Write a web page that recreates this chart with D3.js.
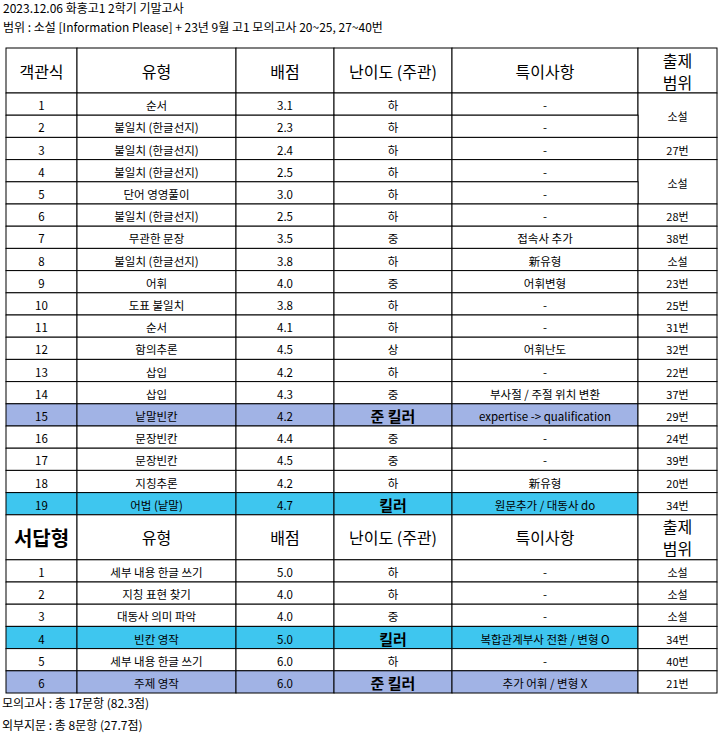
<!DOCTYPE html>
<html><head><meta charset="utf-8">
<script src="https://cdn.jsdelivr.net/npm/d3@7"></script>
<style>body{margin:0;background:#fff}</style>
</head><body>
<script>
const headerA = ["객관식", "유형", "배점", "난이도 (주관)", "특이사항", "출제\n범위"];
const headerB = ["서답형", "유형", "배점", "난이도 (주관)", "특이사항", "출제\n범위"];
const objTypes = ["순서","불일치 (한글선지)","불일치 (한글선지)","불일치 (한글선지)","단어 영영풀이","불일치 (한글선지)","무관한 문장","불일치 (한글선지)","어휘","도표 불일치","순서","함의추론","삽입","삽입","낱말빈칸","문장빈칸","문장빈칸","지칭추론","어법 (낱말)"];
const objScores = [3.1,2.3,2.4,2.5,3.0,2.5,3.5,3.8,4.0,3.8,4.1,4.5,4.2,4.3,4.2,4.4,4.5,4.2,4.7];
const objLevels = ["하","하","하","하","하","하","중","하","중","하","하","상","하","중","준 킬러","중","중","하","킬러"];
const objNotes = ["-","-","-","-","-","-","접속사 추가","新유형","어휘변형","-","-","어휘난도","-","부사절 / 주절 위치 변환","expertise -> qualification","-","-","新유형","원문추가 / 대동사 do"];
const objRange = ["소설",null,"27번","소설",null,"28번","38번","소설","23번","25번","31번","32번","22번","37번","29번","24번","39번","20번","34번"];
const objSpan = [2,0,1,2,0,1,1,1,1,1,1,1,1,1,1,1,1,1,1];
const subTypes = ["세부 내용 한글 쓰기","지칭 표현 찾기","대동사 의미 파악","빈칸 영작","세부 내용 한글 쓰기","주제 영작"];
const subScores = [5.0,4.0,4.0,5.0,6.0,6.0];
const subLevels = ["하","하","중","킬러","하","준 킬러"];
const subNotes = ["-","-","-","복합관계부사 전환 / 변형 O","-","추가 어휘 / 변형 X"];
const subRange = ["소설","소설","소설","34번","40번","21번"];

const W = 723, H = 737;
const colEdges = [6, 77, 236, 334, 452, 638, 717];
const rowH = 22.2, headH = 45;
const fillFor = l => l === "킬러" ? "#3ec6ef" : l === "준 킬러" ? "#a1b3e5" : "#fff";
const font = "'Noto Sans CJK KR', 'DejaVu Sans', sans-serif";

const svg = d3.select("body").append("svg").attr("width", W).attr("height", H)
  .style("font-family", font);

svg.append("text").attr("x", 3).attr("y", 13).attr("font-size", 12).text("2023.12.06 화홍고1 2학기 기말고사");
svg.append("text").attr("x", 3).attr("y", 32).attr("font-size", 12).text("범위 : 소설 [Information Please] + 23년 9월 고1 모의고사 20~25, 27~40번");

const x = i => colEdges[i];
const g = svg.append("g");

function header(y, labels) {
  labels.forEach((t, i) => {
    g.append("rect").attr("x", x(i)).attr("y", y).attr("width", x(i + 1) - x(i)).attr("height", headH)
      .attr("fill", "#fff").attr("stroke", "#000");
    const lines = t.split("\n");
    const size = i === 0 && t === "서답형" ? 20 : 16;
    lines.forEach((ln, k) => {
      g.append("text").attr("x", (x(i) + x(i + 1)) / 2)
        .attr("y", y + headH / 2 + (k - (lines.length - 1) / 2) * 22)
        .attr("text-anchor", "middle").attr("dominant-baseline", "central")
        .attr("font-size", size).attr("font-weight", i === 0 && t === "서답형" ? "bold" : "normal").text(ln);
    });
  });
}

function body(y0, nums, types, scores, levels, notes, range, span) {
  const y = d3.scaleLinear().domain([0, nums.length]).range([y0, y0 + nums.length * rowH]);
  nums.forEach((n, r) => {
    const fill = fillFor(levels[r]);
    const vals = [n, types[r], scores[r].toFixed(1), levels[r], notes[r]];
    vals.forEach((v, i) => {
      g.append("rect").attr("x", x(i)).attr("y", y(r)).attr("width", x(i + 1) - x(i)).attr("height", rowH)
        .attr("fill", fill).attr("stroke", "#000");
      const big = i === 3 && fill !== "#fff";
      g.append("text").attr("x", (x(i) + x(i + 1)) / 2).attr("y", y(r) + rowH / 2 + 1)
        .attr("text-anchor", "middle").attr("dominant-baseline", "central")
        .attr("font-size", big ? 15 : 11.5).attr("font-weight", big ? "bold" : "normal").text(v);
    });
    if (span[r] > 0) {
      g.append("rect").attr("x", x(5)).attr("y", y(r)).attr("width", x(6) - x(5)).attr("height", rowH * span[r])
        .attr("fill", "#fff").attr("stroke", "#000");
      g.append("text").attr("x", (x(5) + x(6)) / 2).attr("y", y(r) + rowH * span[r] / 2 + 1)
        .attr("text-anchor", "middle").attr("dominant-baseline", "central")
        .attr("font-size", 11).text(range[r]);
    }
  });
  return y(nums.length);
}

header(48, headerA);
let yEnd = body(48 + headH, d3.range(1, 20), objTypes, objScores, objLevels, objNotes, objRange, objSpan);
header(yEnd, headerB);
yEnd = body(yEnd + headH, d3.range(1, 7), subTypes, subScores, subLevels, subNotes, subRange, subRange.map(() => 1));

svg.append("text").attr("x", 2).attr("y", yEnd + 15).attr("font-size", 12).text("모의고사 : 총 17문항 (82.3점)");
svg.append("text").attr("x", 2).attr("y", yEnd + 37).attr("font-size", 12).text("외부지문 : 총 8문항 (27.7점)");
</script>
</body></html>
